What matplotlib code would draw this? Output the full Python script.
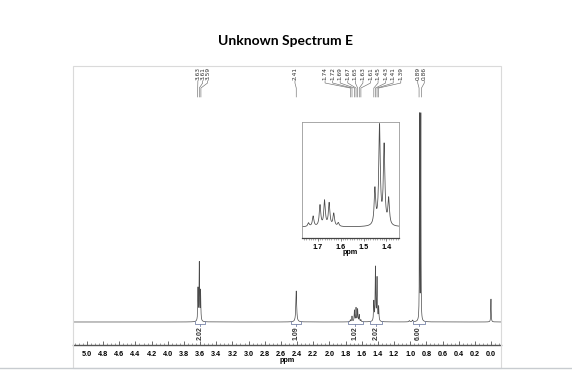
import matplotlib
matplotlib.use("Agg")
import matplotlib.pyplot as plt
import matplotlib.transforms as mtransforms
from matplotlib.patches import Rectangle
from matplotlib.lines import Line2D
import numpy as np

# peak list (ppm, relative height, tallest = 100)
shifts = [3.626, 3.610, 3.594, 2.41,
          1.74, 1.72, 1.69, 1.67, 1.65, 1.63, 1.61,
          1.45, 1.43, 1.41, 1.39,
          1.01, 0.97, 0.884, 0.868, 0.00]
heights = [15, 27, 14, 14.5,
           0.9, 2.6, 5.3, 6.4, 5.8, 3.2, 0.9,
           9.0, 25.0, 20.0, 6.6,
           0.6, 0.8, 96, 96, 10.7]
widths = [0.0035, 0.0035, 0.0035, 0.006,
          0.004, 0.004, 0.004, 0.004, 0.004, 0.004, 0.004,
          0.004, 0.004, 0.004, 0.004,
          0.006, 0.006, 0.0022, 0.0022, 0.003]

# peak pick labels, grouped as drawn
label_groups = [["3.63", "3.61", "3.59"],
                ["2.41"],
                ["1.74", "1.72", "1.69", "1.67", "1.65", "1.63", "1.61",
                 "1.45", "1.43", "1.41", "1.39"],
                ["0.89", "0.86"]]

# integrals
int_ranges = [(3.66, 3.54), (2.47, 2.35), (1.77, 1.59), (1.50, 1.35), (0.97, 0.82)]
int_values = ["2.02", "1.09", "1.02", "2.02", "6.00"]

main_ticks = np.round(np.arange(0, 5.01, 0.2), 1)
inset_ticks = [1.7, 1.6, 1.5, 1.4]

ppm = np.arange(-0.15, 5.2, 0.0005)
spec = np.zeros_like(ppm)
for s, h, w in zip(shifts, heights, widths):
    spec += h / (1 + ((ppm - s) / w) ** 2)

fig = plt.figure(figsize=(5.72, 3.82), dpi=100)
W, H = 572, 382

# light frame around the plot area
fig.add_artist(Rectangle((73 / W, (H - 368) / H), 428 / W, 302 / H,
                         transform=fig.transFigure, fill=False,
                         ec="#dadada", lw=0.8))
fig.add_artist(Line2D([0, 1], [(H - 368) / H] * 2, transform=fig.transFigure,
                      color="#c8ccd0", lw=1.0))

fig.text(286 / W, 1 - 41 / H, "Unknown Spectrum E", ha="center", va="center",
         fontsize=10, fontweight="bold", family="Lato")

ax = fig.add_axes([73 / W, (H - 345) / H, 428 / W, 279 / H])
ax.plot(ppm, spec, color="#4a4a4a", lw=0.5)
ax.set_xlim(5.173, -0.124)
ax.set_ylim(-10.75, 119.6)
for side in ["top", "left", "right"]:
    ax.spines[side].set_visible(False)
ax.spines["bottom"].set_color("#555555")
ax.spines["bottom"].set_linewidth(1.0)
ax.set_yticks([])
ax.set_xticks(main_ticks)
ax.set_xticklabels(["%.1f" % t for t in main_ticks])
ax.set_xticks(np.arange(-0.1, 5.16, 0.05), minor=True)
ax.tick_params(axis="x", which="major", direction="in", length=3, width=0.6,
               color="#555555", pad=4, labelsize=5.2)
ax.tick_params(axis="x", which="minor", direction="in", length=1.8, width=0.5,
               color="#777777")
for lab in ax.get_xticklabels():
    lab.set_fontweight("bold")
    lab.set_family("Liberation Sans")
ax.set_xlabel("ppm", fontsize=5.2, fontweight="bold", family="Liberation Sans",
              labelpad=-0.5)

trans = mtransforms.blended_transform_factory(ax.transData, ax.transAxes)

# peak labels with connector lines
group_centers = [3.568, 2.426, 1.585, 0.866]
group_spacing = [0.06, 0.0, 0.0937, 0.081]
for labels, c, sp in zip(label_groups, group_centers, group_spacing):
    n = len(labels)
    for i, lab in enumerate(labels):
        lx = c + ((n - 1) / 2 - i) * sp
        px = float(lab)
        ax.text(lx, 0.951, lab, rotation=90, ha="center", va="bottom",
                fontsize=4.2, color="#303030", family="DejaVu Sans",
                transform=trans)
        ax.plot([lx, lx, px, px], [0.947, 0.939, 0.921, 0.889],
                color="#707070", lw=0.45, transform=trans)

# integral brackets and values
for (a, b), v in zip(int_ranges, int_values):
    m = (a + b) / 2
    ax.plot([a, a, b, b], [0.086, 0.077, 0.077, 0.086], color="#7884a8",
            lw=0.6, transform=trans)
    ax.plot([m, m], [0.077, 0.068], color="#7884a8", lw=0.6, transform=trans)
    ax.text(m, 0.066, v, rotation=90, ha="center", va="top", fontsize=5,
            fontweight="bold", color="#333333", family="Liberation Sans",
            transform=trans)

# inset with the 1.4 - 1.7 region
ins = fig.add_axes([301.7 / W, (H - 238) / H, 97.3 / W, 116 / H])
ins.plot(ppm, spec, color="#4a4a4a", lw=0.55)
ins.set_xlim(1.77, 1.345)
ins.set_ylim(-2.8, 26.6)
ins.set_yticks([])
for side in ["top", "left", "right"]:
    ins.spines[side].set_color("#9a9a9a")
    ins.spines[side].set_linewidth(0.6)
ins.spines["bottom"].set_color("#444444")
ins.spines["bottom"].set_linewidth(0.9)
ins.set_xticks(inset_ticks)
ins.set_xticklabels(["%.1f" % t for t in inset_ticks])
ins.set_xticks(np.arange(1.35, 1.77, 0.01), minor=True)
ins.tick_params(axis="x", which="major", direction="out", length=2.5, width=0.5,
                color="#555555", pad=1.5, labelsize=5.2)
ins.tick_params(axis="x", which="minor", direction="out", length=1.5, width=0.4,
                color="#777777")
for lab in ins.get_xticklabels():
    lab.set_fontweight("bold")
    lab.set_family("Liberation Sans")
ins.set_xlabel("ppm", fontsize=5.2, fontweight="bold", family="Liberation Sans",
               labelpad=-1)

fig.savefig("out.png", dpi=100)
